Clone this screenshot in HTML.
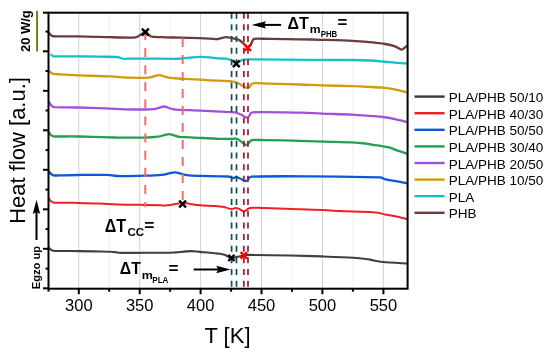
<!DOCTYPE html>
<html><head><meta charset="utf-8"><style>
html,body{margin:0;padding:0;background:#fff;width:550px;height:354px;overflow:hidden}
svg{display:block}
text{font-family:"Liberation Sans",Arial,sans-serif;fill:#000}
</style></head><body>
<svg width="550" height="354" viewBox="0 0 550 354">
<line x1="78.8" y1="12.7" x2="78.8" y2="288.7" stroke="#d2d2d2" stroke-width="1"/>
<line x1="109.2" y1="12.7" x2="109.2" y2="288.7" stroke="#efefef" stroke-width="1"/>
<line x1="139.7" y1="12.7" x2="139.7" y2="288.7" stroke="#d2d2d2" stroke-width="1"/>
<line x1="170.1" y1="12.7" x2="170.1" y2="288.7" stroke="#efefef" stroke-width="1"/>
<line x1="200.6" y1="12.7" x2="200.6" y2="288.7" stroke="#d2d2d2" stroke-width="1"/>
<line x1="231.1" y1="12.7" x2="231.1" y2="288.7" stroke="#efefef" stroke-width="1"/>
<line x1="261.5" y1="12.7" x2="261.5" y2="288.7" stroke="#d2d2d2" stroke-width="1"/>
<line x1="292.0" y1="12.7" x2="292.0" y2="288.7" stroke="#efefef" stroke-width="1"/>
<line x1="322.4" y1="12.7" x2="322.4" y2="288.7" stroke="#d2d2d2" stroke-width="1"/>
<line x1="352.9" y1="12.7" x2="352.9" y2="288.7" stroke="#efefef" stroke-width="1"/>
<line x1="383.4" y1="12.7" x2="383.4" y2="288.7" stroke="#d2d2d2" stroke-width="1"/>
<path d="M48.30,32.20C48.58,32.53 49.33,33.57 50.00,34.20C50.67,34.83 51.30,35.65 52.30,36.00C53.30,36.35 52.30,36.23 56.00,36.30C60.42,36.37 71.47,36.30 78.80,36.40C86.13,36.50 94.80,36.77 100.00,36.90C105.20,37.03 105.00,37.08 110.00,37.20C115.00,37.32 125.67,37.60 130.00,37.60C134.33,37.60 134.57,37.48 136.00,37.20C137.43,36.92 137.77,36.33 138.60,35.90C139.43,35.47 139.87,35.23 141.00,34.60C142.13,33.97 144.07,32.03 145.40,32.10C146.73,32.17 147.90,34.23 149.00,35.00C150.10,35.77 149.33,36.32 152.00,36.70C154.67,37.08 160.33,37.15 165.00,37.30C169.67,37.45 174.17,37.47 180.00,37.60C185.83,37.73 195.00,37.93 200.00,38.10C205.00,38.27 207.18,38.43 210.00,38.60C212.82,38.77 215.07,39.17 216.90,39.10C218.73,39.03 219.55,38.52 221.00,38.20C222.45,37.88 223.93,37.25 225.60,37.20C227.27,37.15 229.13,37.58 231.00,37.90C232.87,38.22 235.30,38.67 236.80,39.10C238.30,39.53 238.80,39.68 240.00,40.50C241.20,41.32 242.73,42.85 244.00,44.00C245.27,45.15 246.52,47.23 247.60,47.40C248.68,47.57 249.68,46.10 250.50,45.00C251.32,43.90 251.87,41.83 252.50,40.80C253.13,39.77 252.50,39.12 254.30,38.80C257.22,38.48 262.38,38.82 270.00,38.90C277.62,38.98 291.33,39.15 300.00,39.30C308.67,39.45 313.22,39.55 322.00,39.80C330.78,40.05 344.70,40.40 352.70,40.80C360.70,41.20 364.62,41.67 370.00,42.20C375.38,42.73 380.83,43.32 385.00,44.00C389.17,44.68 392.27,45.37 395.00,46.30C397.73,47.23 399.82,49.35 401.40,49.60C402.98,49.85 403.48,48.50 404.50,47.80C405.52,47.10 407.00,45.80 407.50,45.40" fill="none" stroke="#6e3b3b" stroke-width="2.3" stroke-linejoin="round" stroke-linecap="butt"/>
<path d="M50.60,54.10C50.87,54.35 51.60,55.22 52.20,55.60C52.80,55.98 52.90,56.27 54.20,56.40C55.50,56.53 56.03,56.40 60.00,56.40C63.97,56.40 71.33,56.35 78.00,56.40C84.67,56.45 93.60,56.60 100.00,56.70C106.40,56.80 112.90,56.75 116.40,57.00C119.90,57.25 119.65,57.87 121.00,58.20C122.35,58.53 123.45,58.92 124.50,59.00C125.55,59.08 124.50,58.77 127.30,58.70C130.72,58.63 137.05,58.58 145.00,58.60C152.95,58.62 168.72,58.85 175.00,58.80C181.28,58.75 180.20,58.50 182.70,58.30C185.20,58.10 187.12,57.83 190.00,57.60C192.88,57.37 196.67,56.95 200.00,56.90C203.33,56.85 207.17,57.07 210.00,57.30C212.83,57.53 214.50,58.07 217.00,58.30C219.50,58.53 222.92,58.50 225.00,58.70C227.08,58.90 228.17,59.07 229.50,59.50C230.83,59.93 231.88,60.78 233.00,61.30C234.12,61.82 234.95,62.65 236.20,62.60C237.45,62.55 239.37,61.47 240.50,61.00C241.63,60.53 241.42,60.08 243.00,59.80C244.58,59.52 243.00,59.30 250.00,59.30C261.17,59.30 293.00,59.68 310.00,59.80C327.00,59.92 342.00,59.88 352.00,60.00C362.00,60.12 364.83,60.25 370.00,60.50C375.17,60.75 378.83,61.13 383.00,61.50C387.17,61.87 390.92,62.35 395.00,62.70C399.08,63.05 405.42,63.45 407.50,63.60" fill="none" stroke="#12c3c6" stroke-width="2.3" stroke-linejoin="round" stroke-linecap="butt"/>
<path d="M48.50,70.20C48.83,70.58 49.67,71.88 50.50,72.50C51.33,73.12 51.92,73.58 53.50,73.90C55.08,74.22 55.77,74.17 60.00,74.40C64.23,74.63 70.57,74.97 78.90,75.30C87.23,75.63 101.48,76.00 110.00,76.40C118.52,76.80 123.67,77.50 130.00,77.70C136.33,77.90 144.07,77.82 148.00,77.60C151.93,77.38 151.68,76.80 153.60,76.40C155.52,76.00 157.68,75.17 159.50,75.20C161.32,75.23 162.90,76.18 164.50,76.60C166.10,77.02 166.82,77.38 169.10,77.70C171.38,78.02 174.72,78.27 178.20,78.50C181.68,78.73 186.37,78.90 190.00,79.10C193.63,79.30 195.50,79.43 200.00,79.70C204.50,79.97 211.77,80.43 217.00,80.70C222.23,80.97 228.10,80.98 231.40,81.30C234.70,81.62 235.03,81.92 236.80,82.60C238.57,83.28 240.23,84.47 242.00,85.40C243.77,86.33 246.07,88.02 247.40,88.20C248.73,88.38 249.03,87.32 250.00,86.50C250.97,85.68 250.00,83.78 253.20,83.30C256.53,82.82 262.20,83.40 270.00,83.60C277.80,83.80 291.33,84.20 300.00,84.50C308.67,84.80 313.33,85.13 322.00,85.40C330.67,85.67 344.00,85.85 352.00,86.10C360.00,86.35 364.83,86.63 370.00,86.90C375.17,87.17 379.33,87.37 383.00,87.70C386.67,88.03 389.17,88.42 392.00,88.90C394.83,89.38 397.42,89.98 400.00,90.60C402.58,91.22 406.25,92.27 407.50,92.60" fill="none" stroke="#d4990c" stroke-width="2.3" stroke-linejoin="round" stroke-linecap="butt"/>
<path d="M48.50,101.40C48.80,101.87 49.63,103.35 50.30,104.20C50.97,105.05 51.72,106.02 52.50,106.50C53.28,106.98 52.50,106.93 55.00,107.10C59.35,107.27 70.10,107.28 78.60,107.50C87.10,107.72 98.27,108.10 106.00,108.40C113.73,108.70 118.50,109.12 125.00,109.30C131.50,109.48 140.23,109.53 145.00,109.50C149.77,109.47 151.35,109.35 153.60,109.10C155.85,108.85 156.75,108.43 158.50,108.00C160.25,107.57 162.18,106.43 164.10,106.50C166.02,106.57 167.95,107.87 170.00,108.40C172.05,108.93 173.07,109.40 176.40,109.70C179.73,110.00 186.07,110.03 190.00,110.20C193.93,110.37 193.17,110.37 200.00,110.70C206.83,111.03 225.00,111.88 231.00,112.20C236.00,112.52 234.17,112.13 236.00,112.60C237.83,113.07 240.20,114.15 242.00,115.00C243.80,115.85 245.55,117.62 246.80,117.70C248.05,117.78 248.58,116.40 249.50,115.50C250.42,114.60 249.50,112.77 252.30,112.30C260.72,111.83 288.38,112.48 300.00,112.70C311.62,112.92 313.33,113.28 322.00,113.60C330.67,113.92 344.00,114.22 352.00,114.60C360.00,114.98 364.83,115.50 370.00,115.90C375.17,116.30 378.83,116.45 383.00,117.00C387.17,117.55 390.92,118.33 395.00,119.20C399.08,120.07 405.42,121.70 407.50,122.20" fill="none" stroke="#a052dc" stroke-width="2.3" stroke-linejoin="round" stroke-linecap="butt"/>
<path d="M48.50,131.50C48.83,132.02 49.65,133.80 50.50,134.60C51.35,135.40 52.02,135.98 53.60,136.30C55.18,136.62 55.83,136.47 60.00,136.50C64.17,136.53 70.27,136.37 78.60,136.50C86.93,136.63 103.48,137.12 110.00,137.30C116.52,137.48 111.87,137.55 117.70,137.60C123.53,137.65 138.25,137.77 145.00,137.60C151.75,137.43 155.12,136.98 158.20,136.60C161.28,136.22 161.68,135.72 163.50,135.30C165.32,134.88 167.35,134.10 169.10,134.10C170.85,134.10 172.33,134.85 174.00,135.30C175.67,135.75 176.43,136.47 179.10,136.80C181.77,137.13 186.52,137.12 190.00,137.30C193.48,137.48 195.00,137.65 200.00,137.90C205.00,138.15 214.67,138.65 220.00,138.80C225.33,138.95 229.33,138.83 232.00,138.80C234.67,138.77 234.67,138.30 236.00,138.60C237.33,138.90 238.80,139.82 240.00,140.60C241.20,141.38 242.12,142.57 243.20,143.30C244.28,144.03 245.25,145.40 246.50,145.00C247.75,144.60 249.58,141.73 250.70,140.90C251.82,140.07 250.82,140.13 253.20,140.00C255.58,139.87 257.20,139.97 265.00,140.10C272.80,140.23 290.00,140.55 300.00,140.80C310.00,141.05 316.33,141.33 325.00,141.60C333.67,141.87 345.17,142.07 352.00,142.40C358.83,142.73 362.50,143.20 366.00,143.60C369.50,144.00 370.17,144.35 373.00,144.80C375.83,145.25 380.17,145.82 383.00,146.30C385.83,146.78 387.67,147.03 390.00,147.70C392.33,148.37 394.08,149.27 397.00,150.30C399.92,151.33 405.75,153.30 407.50,153.90" fill="none" stroke="#22a052" stroke-width="2.3" stroke-linejoin="round" stroke-linecap="butt"/>
<path d="M48.50,171.00C48.83,171.40 49.83,172.73 50.50,173.40C51.17,174.07 51.83,174.65 52.50,175.00C53.17,175.35 53.25,175.43 54.50,175.50C55.75,175.57 55.98,175.48 60.00,175.40C64.02,175.32 70.80,175.08 78.60,175.00C86.40,174.92 100.28,174.73 106.80,174.90C113.32,175.07 111.33,175.88 117.70,176.00C124.07,176.12 137.65,175.80 145.00,175.60C152.35,175.40 157.97,175.13 161.80,174.80C165.63,174.47 165.82,174.02 168.00,173.60C170.18,173.18 172.67,172.25 174.90,172.30C177.13,172.35 179.05,173.38 181.40,173.90C183.75,174.42 185.90,175.07 189.00,175.40C192.10,175.73 193.62,175.72 200.00,175.90C206.38,176.08 221.77,176.12 227.30,176.50C232.83,176.88 231.75,178.13 233.20,178.20C234.65,178.27 234.87,176.85 236.00,176.90C237.13,176.95 238.50,177.83 240.00,178.50C241.50,179.17 243.72,180.58 245.00,180.90C246.28,181.22 246.63,181.10 247.70,180.40C248.77,179.70 247.70,177.38 251.40,176.70C261.78,176.02 288.57,176.20 310.00,176.30C331.43,176.40 367.83,176.97 380.00,177.30C383.00,177.63 381.83,177.90 383.00,178.30C384.17,178.70 383.00,178.88 387.00,179.70C391.08,180.52 404.08,182.62 407.50,183.20" fill="none" stroke="#0a5ad8" stroke-width="2.3" stroke-linejoin="round" stroke-linecap="butt"/>
<path d="M48.50,198.00C48.83,198.43 49.73,199.85 50.50,200.60C51.27,201.35 51.52,202.15 53.10,202.50C54.68,202.85 55.75,202.63 60.00,202.70C64.25,202.77 71.93,202.77 78.60,202.90C85.27,203.03 93.43,203.23 100.00,203.50C106.57,203.77 111.33,204.28 118.00,204.50C124.67,204.72 133.00,204.67 140.00,204.80C147.00,204.93 155.45,205.23 160.00,205.30C164.55,205.37 163.52,205.60 167.30,205.20C171.08,204.80 179.08,203.13 182.70,202.90C186.32,202.67 186.12,203.40 189.00,203.80C191.88,204.20 195.67,204.93 200.00,205.30C204.33,205.67 210.98,205.70 215.00,206.00C219.02,206.30 221.37,206.58 224.10,207.10C226.83,207.62 229.43,208.97 231.40,209.10C233.37,209.23 234.47,207.83 235.90,207.90C237.33,207.97 238.72,208.95 240.00,209.50C241.28,210.05 242.60,211.03 243.60,211.20C244.60,211.37 245.17,210.95 246.00,210.50C246.83,210.05 247.40,208.97 248.60,208.50C249.80,208.03 250.47,207.77 253.20,207.70C255.93,207.63 258.53,207.90 265.00,208.10C271.47,208.30 282.50,208.60 292.00,208.90C301.50,209.20 314.00,209.53 322.00,209.90C330.00,210.27 335.00,210.83 340.00,211.10C345.00,211.37 347.00,211.33 352.00,211.50C357.00,211.67 365.67,211.90 370.00,212.10C374.33,212.30 375.50,212.28 378.00,212.70C380.50,213.12 382.17,214.00 385.00,214.60C387.83,215.20 391.25,215.53 395.00,216.30C398.75,217.07 405.42,218.72 407.50,219.20" fill="none" stroke="#ee1f26" stroke-width="2.0" stroke-linejoin="round" stroke-linecap="butt"/>
<path d="M48.50,247.30C48.83,247.63 49.65,248.72 50.50,249.30C51.35,249.88 52.02,250.52 53.60,250.80C55.18,251.08 55.83,250.95 60.00,251.00C64.17,251.05 72.77,251.03 78.60,251.10C84.43,251.17 89.68,251.30 95.00,251.40C100.32,251.50 107.00,251.55 110.50,251.70C114.00,251.85 114.18,252.10 116.00,252.30C117.82,252.50 116.57,252.82 121.40,252.90C126.23,252.98 136.90,252.83 145.00,252.80C153.10,252.77 164.83,252.77 170.00,252.70C175.17,252.63 172.58,252.67 176.00,252.40C179.42,252.13 186.50,251.18 190.50,251.10C194.50,251.02 196.75,251.63 200.00,251.90C203.25,252.17 206.97,252.42 210.00,252.70C213.03,252.98 215.78,253.25 218.20,253.60C220.62,253.95 222.32,254.05 224.50,254.80C226.68,255.55 229.23,257.75 231.30,258.10C233.37,258.45 235.23,257.23 236.90,256.90C238.57,256.57 240.08,256.35 241.30,256.10C242.52,255.85 243.00,255.60 244.20,255.40C245.40,255.20 244.20,254.88 248.50,254.90C256.13,254.92 277.75,255.25 290.00,255.50C302.25,255.75 311.45,256.03 322.00,256.40C332.55,256.77 345.63,257.22 353.30,257.70C360.97,258.18 364.72,258.87 368.00,259.30C371.28,259.73 370.50,259.85 373.00,260.30C375.50,260.75 377.25,261.45 383.00,262.00C388.75,262.55 403.42,263.33 407.50,263.60" fill="none" stroke="#404040" stroke-width="2.1" stroke-linejoin="round" stroke-linecap="butt"/>
<line x1="145.3" y1="34" x2="145.3" y2="207.3" stroke="#f86b6b" stroke-width="2" stroke-dasharray="9 8.1" stroke-dashoffset="3.0"/>
<line x1="182.7" y1="37.6" x2="182.7" y2="201" stroke="#f86b6b" stroke-width="2" stroke-dasharray="9 8" stroke-dashoffset="-0.3"/>
<line x1="231.6" y1="12.7" x2="231.6" y2="288.7" stroke="#0d4d5e" stroke-width="1.7" stroke-dasharray="6 5.65"/>
<line x1="236.5" y1="12.7" x2="236.5" y2="288.7" stroke="#0d4d5e" stroke-width="1.7" stroke-dasharray="6 5.65"/>
<line x1="243.9" y1="12.7" x2="243.9" y2="288.7" stroke="#a8172a" stroke-width="1.7" stroke-dasharray="6 5.65"/>
<line x1="248.0" y1="12.7" x2="248.0" y2="288.7" stroke="#a8172a" stroke-width="1.7" stroke-dasharray="6 5.65"/>
<path d="M141.8,28.6L148.8,35.6M141.8,35.6L148.8,28.6" stroke="#000" stroke-width="2.4" fill="none"/>
<path d="M232.9,60.4L239.7,67.2M232.9,67.2L239.7,60.4" stroke="#000" stroke-width="2.4" fill="none"/>
<path d="M244.5,44.4L251.1,51.0M244.5,51.0L251.1,44.4" stroke="#ff0000" stroke-width="2.4" fill="none"/>
<path d="M179.2,200.5L186.0,207.3M179.2,207.3L186.0,200.5" stroke="#000" stroke-width="2.4" fill="none"/>
<path d="M228.3,254.8L234.5,261.0M228.3,261.0L234.5,254.8" stroke="#000" stroke-width="2.4" fill="none"/>
<path d="M240.7,252.2L247.1,258.6M240.7,258.6L247.1,252.2" stroke="#ff0000" stroke-width="2.4" fill="none"/>
<rect x="48.5" y="12.7" width="359.1" height="276.0" fill="none" stroke="#000" stroke-width="2"/>
<line x1="78.8" y1="288.7" x2="78.8" y2="294.2" stroke="#000" stroke-width="2"/>
<line x1="109.2" y1="288.7" x2="109.2" y2="291.7" stroke="#000" stroke-width="2"/>
<line x1="139.7" y1="288.7" x2="139.7" y2="294.2" stroke="#000" stroke-width="2"/>
<line x1="170.1" y1="288.7" x2="170.1" y2="291.7" stroke="#000" stroke-width="2"/>
<line x1="200.6" y1="288.7" x2="200.6" y2="294.2" stroke="#000" stroke-width="2"/>
<line x1="231.1" y1="288.7" x2="231.1" y2="291.7" stroke="#000" stroke-width="2"/>
<line x1="261.5" y1="288.7" x2="261.5" y2="294.2" stroke="#000" stroke-width="2"/>
<line x1="292.0" y1="288.7" x2="292.0" y2="291.7" stroke="#000" stroke-width="2"/>
<line x1="322.4" y1="288.7" x2="322.4" y2="294.2" stroke="#000" stroke-width="2"/>
<line x1="352.9" y1="288.7" x2="352.9" y2="291.7" stroke="#000" stroke-width="2"/>
<line x1="383.4" y1="288.7" x2="383.4" y2="294.2" stroke="#000" stroke-width="2"/>
<line x1="48.5" y1="288.7" x2="48.5" y2="291.7" stroke="#000" stroke-width="2"/>
<line x1="43.0" y1="12.7" x2="48.5" y2="12.7" stroke="#000" stroke-width="2"/>
<line x1="45.5" y1="31.6" x2="48.5" y2="31.6" stroke="#000" stroke-width="2"/>
<line x1="43.0" y1="51.3" x2="48.5" y2="51.3" stroke="#000" stroke-width="2"/>
<line x1="45.5" y1="71.0" x2="48.5" y2="71.0" stroke="#000" stroke-width="2"/>
<line x1="43.0" y1="90.8" x2="48.5" y2="90.8" stroke="#000" stroke-width="2"/>
<line x1="45.5" y1="110.5" x2="48.5" y2="110.5" stroke="#000" stroke-width="2"/>
<line x1="43.0" y1="130.3" x2="48.5" y2="130.3" stroke="#000" stroke-width="2"/>
<line x1="45.5" y1="150.1" x2="48.5" y2="150.1" stroke="#000" stroke-width="2"/>
<line x1="43.0" y1="169.8" x2="48.5" y2="169.8" stroke="#000" stroke-width="2"/>
<line x1="45.5" y1="189.6" x2="48.5" y2="189.6" stroke="#000" stroke-width="2"/>
<line x1="43.0" y1="209.3" x2="48.5" y2="209.3" stroke="#000" stroke-width="2"/>
<line x1="45.5" y1="229.1" x2="48.5" y2="229.1" stroke="#000" stroke-width="2"/>
<line x1="43.0" y1="248.8" x2="48.5" y2="248.8" stroke="#000" stroke-width="2"/>
<line x1="45.5" y1="268.6" x2="48.5" y2="268.6" stroke="#000" stroke-width="2"/>
<line x1="43.0" y1="288.3" x2="48.5" y2="288.3" stroke="#000" stroke-width="2"/>
<text x="78.8" y="310.9" font-size="16.5" text-anchor="middle">300</text>
<text x="139.7" y="310.9" font-size="16.5" text-anchor="middle">350</text>
<text x="200.6" y="310.9" font-size="16.5" text-anchor="middle">400</text>
<text x="261.5" y="310.9" font-size="16.5" text-anchor="middle">450</text>
<text x="322.4" y="310.9" font-size="16.5" text-anchor="middle">500</text>
<text x="383.4" y="310.9" font-size="16.5" text-anchor="middle">550</text>
<text x="227.5" y="342.8" font-size="22" text-anchor="middle">T [K]</text>
<text transform="translate(25.4,223.8) rotate(-90)" font-size="22">Heat flow [a.u.]</text>
<text transform="translate(39.7,289.3) rotate(-90)" font-size="11.2" font-weight="bold">Egzo up</text>
<text transform="translate(30.1,52.1) rotate(-90)" font-size="13" font-weight="bold">20 W/g</text>
<line x1="37.1" y1="10.7" x2="37.1" y2="51.4" stroke="#7b7b14" stroke-width="2"/>
<line x1="36.5" y1="212" x2="36.5" y2="240" stroke="#000" stroke-width="2"/>
<path d="M36.5,199.7L40.2,214L36.5,212L32.8,214Z" fill="#000"/>
<line x1="264" y1="24.9" x2="281.1" y2="24.9" stroke="#000" stroke-width="2"/>
<path d="M251.6,24.9L266,21.3L264,24.9L266,28.5Z" fill="#000"/>
<line x1="193.7" y1="269.5" x2="218" y2="269.5" stroke="#000" stroke-width="2"/>
<path d="M230.6,269.5L216.2,265.8L218.2,269.5L216.2,273.2Z" fill="#000"/>
<text x="287.6" y="28.5" font-size="17" font-weight="bold" textLength="21.3" lengthAdjust="spacingAndGlyphs">ΔT</text>
<text x="309.7" y="32.9" font-size="11" font-weight="bold" textLength="10.8" lengthAdjust="spacingAndGlyphs">m</text>
<text x="320.7" y="36.7" font-size="8.6" font-weight="bold" textLength="16.6" lengthAdjust="spacingAndGlyphs">PHB</text>
<text x="337.6" y="27.8" font-size="16" font-weight="bold" textLength="9.8" lengthAdjust="spacingAndGlyphs">=</text>
<text x="104.7" y="231.8" font-size="17.5" font-weight="bold" textLength="21.4" lengthAdjust="spacingAndGlyphs">ΔT</text>
<text x="127.5" y="236.2" font-size="11.5" font-weight="bold">CC</text>
<text x="144.3" y="230.6" font-size="16.5" font-weight="bold" textLength="10.2" lengthAdjust="spacingAndGlyphs">=</text>
<text x="119.8" y="274.3" font-size="17.2" font-weight="bold" textLength="21.0" lengthAdjust="spacingAndGlyphs">ΔT</text>
<text x="141.7" y="278.9" font-size="11" font-weight="bold" textLength="11.1" lengthAdjust="spacingAndGlyphs">m</text>
<text x="152.3" y="282.7" font-size="8.8" font-weight="bold" textLength="16.1" lengthAdjust="spacingAndGlyphs">PLA</text>
<text x="168.6" y="273.8" font-size="16" font-weight="bold" textLength="10" lengthAdjust="spacingAndGlyphs">=</text>
<line x1="414.5" y1="96.6" x2="444.6" y2="96.6" stroke="#3a3a3a" stroke-width="2.4"/>
<text x="448.7" y="102.1" font-size="13.5">PLA/PHB 50/10</text>
<line x1="414.5" y1="113.2" x2="444.6" y2="113.2" stroke="#ee1f26" stroke-width="2.4"/>
<text x="448.7" y="118.7" font-size="13.5">PLA/PHB 40/30</text>
<line x1="414.5" y1="129.8" x2="444.6" y2="129.8" stroke="#0a5ad8" stroke-width="2.4"/>
<text x="448.7" y="135.3" font-size="13.5">PLA/PHB 50/50</text>
<line x1="414.5" y1="146.4" x2="444.6" y2="146.4" stroke="#22a052" stroke-width="2.4"/>
<text x="448.7" y="151.9" font-size="13.5">PLA/PHB 30/40</text>
<line x1="414.5" y1="163.0" x2="444.6" y2="163.0" stroke="#a052dc" stroke-width="2.4"/>
<text x="448.7" y="168.5" font-size="13.5">PLA/PHB 20/50</text>
<line x1="414.5" y1="179.6" x2="444.6" y2="179.6" stroke="#d4990c" stroke-width="2.4"/>
<text x="448.7" y="185.1" font-size="13.5">PLA/PHB 10/50</text>
<line x1="414.5" y1="196.2" x2="444.6" y2="196.2" stroke="#12c3c6" stroke-width="2.4"/>
<text x="448.7" y="201.7" font-size="13.5">PLA</text>
<line x1="414.5" y1="212.8" x2="444.6" y2="212.8" stroke="#6e3b3b" stroke-width="2.4"/>
<text x="448.7" y="218.3" font-size="13.5">PHB</text>
</svg>
</body></html>
